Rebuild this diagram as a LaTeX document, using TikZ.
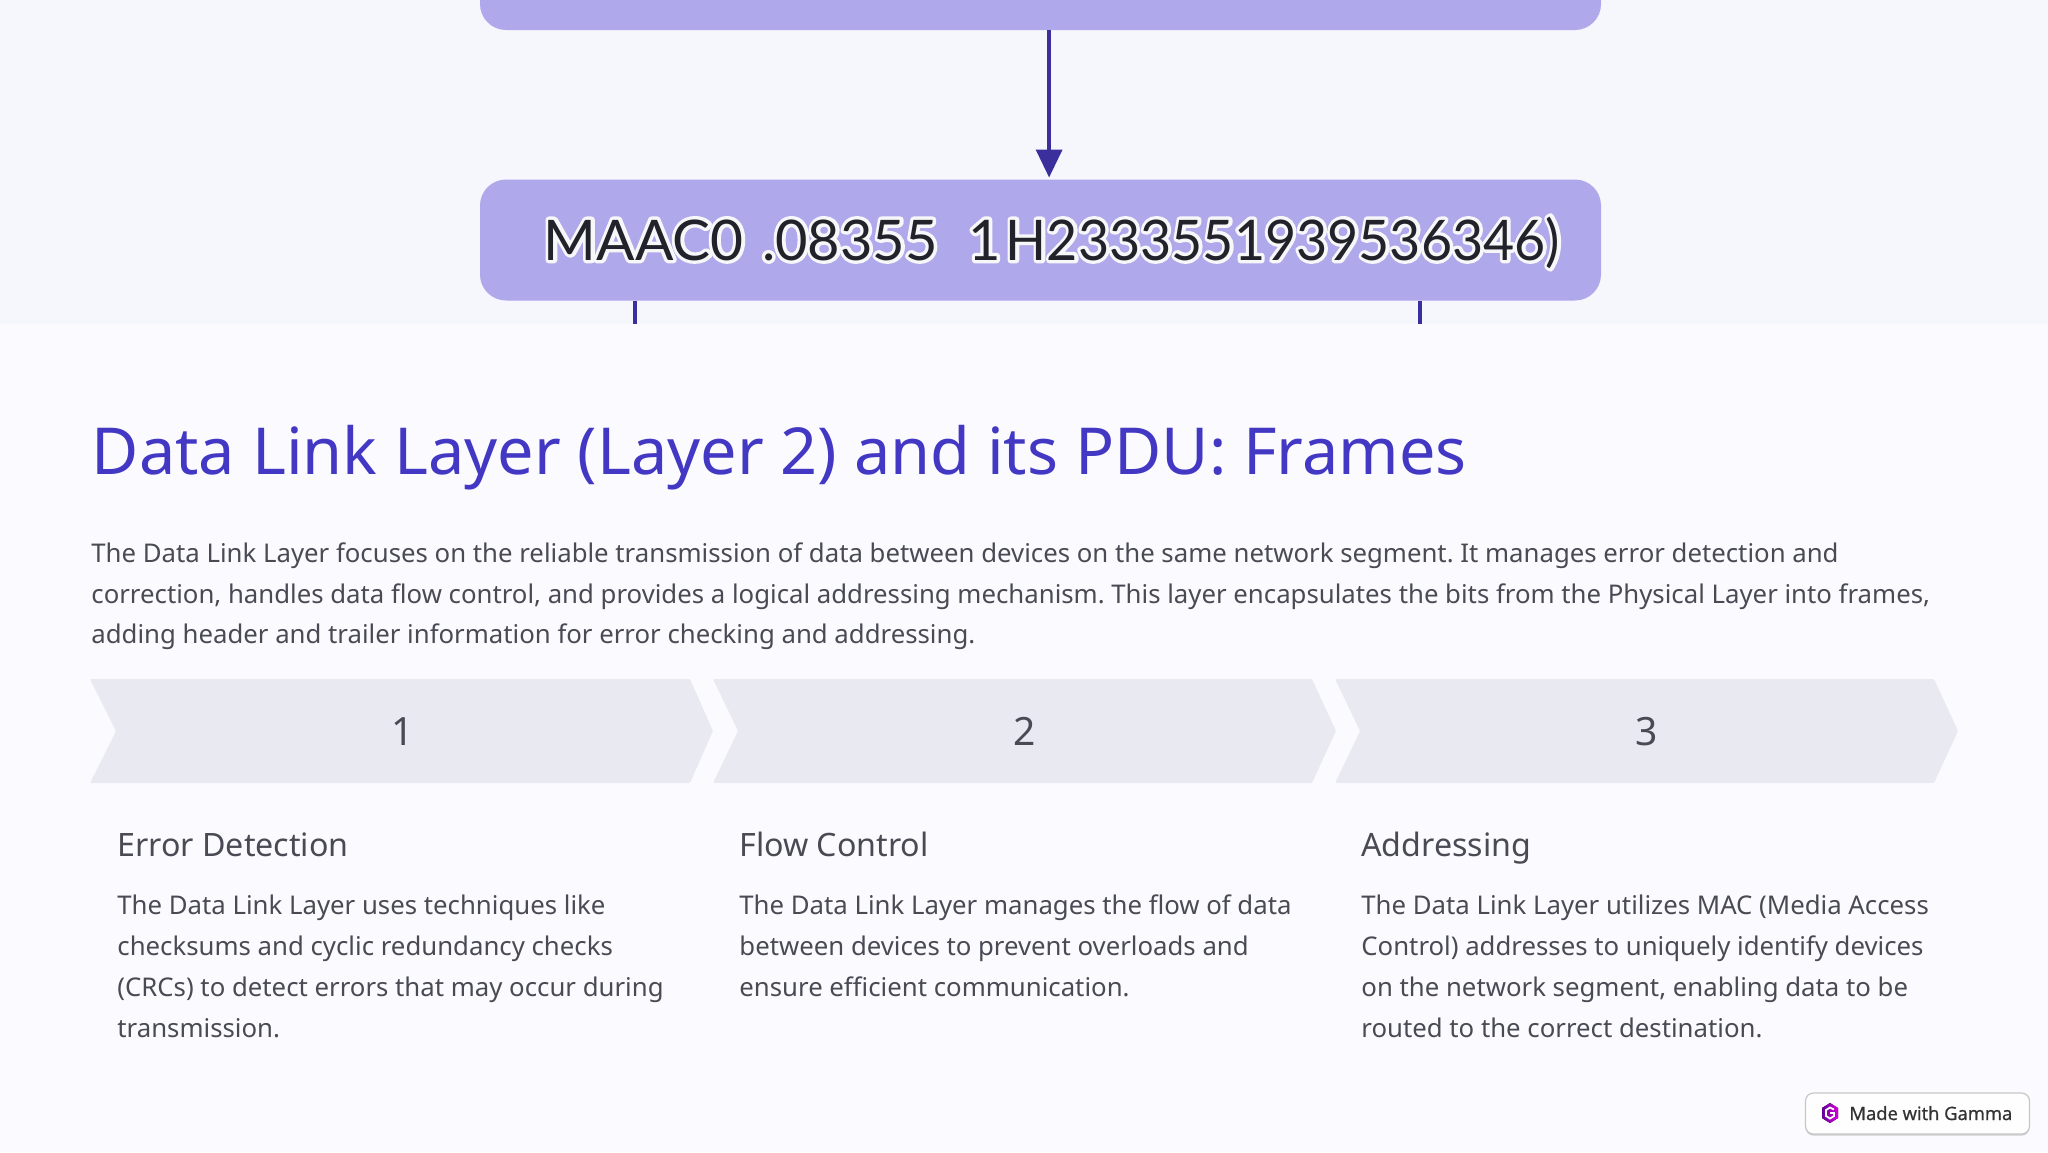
\documentclass[tikz,border=0pt]{standalone}
\usepackage{fontspec}
\usepackage{graphicx}
\usetikzlibrary{arrows.meta,shadows,calc}
\setmainfont{Noto Sans}
\frenchspacing
\newfontfamily\lbl{Lato}
\newfontfamily\badgefont[FakeBold=1]{Open Sans}
\definecolor{pagebg}{HTML}{FBFBFF}
\definecolor{bandbg}{HTML}{F6F6FD}
\definecolor{boxfill}{HTML}{AFA9EC}
\definecolor{arrowc}{HTML}{3A2F9C}
\definecolor{titlec}{HTML}{4338C4}
\definecolor{bodyc}{HTML}{4A4A55}
\definecolor{chev}{HTML}{E9E9F2}
\definecolor{lblc}{HTML}{22222A}
\newcommand{\macline}{\scalebox{1.015}[1]{MAAC0}\hspace{2.2pt} .08355\hspace{0.9pt}\ \ 1\hspace{2.6pt}\scalebox{0.96}[1]{H2333551939536346)}}
\newcommand{\halotext}[1]{\special{pdf:code q 2 Tr 3.4 w 1 j 1 J 0.97 0.97 0.98 RG}\textcolor[HTML]{F7F7FA}{#1}\special{pdf:code Q}}
\tikzset{
  x=0.5pt,y=-0.5pt,
  flowbox/.style={fill=boxfill,rounded corners=13pt,inner sep=0pt,minimum width=560.5pt},
  flowline/.style={draw=arrowc,line width=1.8pt},
  flowarrow/.style={flowline,-{Triangle[width=13pt,length=14pt]},shorten >=0.8pt},
  title/.style={anchor=base west,inner sep=0pt,text=titlec,font=\fontsize{32.4}{40}\selectfont},
  para/.style={anchor=north west,inner sep=0pt,align=left,text=bodyc,font=\fontsize{12.88}{20.45}\selectfont},
  head/.style={anchor=base west,inner sep=0pt,text=bodyc,font=\fontsize{16.1}{20}\selectfont},
  chevron/.style={fill=chev,rounded corners=0.6pt},
  num/.style={text=bodyc,inner sep=0pt,font=\fontsize{19.5}{24}\selectfont},
  badge/.style={fill=white!70!pagebg,draw=black!22,line width=0.6pt,rounded corners=4pt,minimum width=112pt,minimum height=20.5pt,inner sep=0pt,
    drop shadow={shadow xshift=0pt,shadow yshift=-0.8pt,opacity=0.18,fill=black}},
  badgetext/.style={anchor=base west,inner sep=0pt,text=black!80,font=\badgefont\fontsize{9.2}{11}\selectfont}
}
\begin{document}
\begin{tikzpicture}
\useasboundingbox (0,0) rectangle (2048,1152);
\clip (0,0) rectangle (2048,1152);
\fill[pagebg] (0,0) rectangle (2048,1152);
\fill[bandbg] (0,0) rectangle (2048,324);
% flow diagram fragment
\node[flowbox,minimum height=100pt] (upper) at (1040.5,-70) {};
\node[flowbox,minimum height=60.5pt] (mac) at (1040.5,240) {%
  \hspace{11.5pt}\raisebox{-10pt}[0pt][0pt]{\fontsize{28}{34}\selectfont\lbl
  \rlap{\halotext{\macline}}%
  \special{pdf:code 0 Tr 0.3 w}\textcolor{lblc}{\macline}}};
\draw[flowarrow] ([xshift=4.3pt]upper.south) -- ([xshift=4.3pt]mac.north);
\coordinate (leftend) at (635,330);
\coordinate (rightend) at (1420,330);
\draw[flowline] (mac.south -| leftend) -- (leftend);
\draw[flowline] (mac.south -| rightend) -- (rightend);
\fill[pagebg] (0,324) rectangle (2048,1152);
% title and text
\node[title] (ttl) at (91.5,474.5) {Data Link Layer (Layer 2) and its PDU: Frames};
\node[para] (intro) at (91,542) {The Data Link Layer focuses on the reliable transmission of data between devices on the same network segment. It manages error detection and\\
correction, handles data flow control, and provides a logical addressing mechanism. This layer encapsulates the bits from the Physical Layer into frames,\\
adding header and trailer information for error checking and addressing.};
% chevrons
\fill[chevron] (90,679) -- (690,679) -- (713,731) -- (690,783) -- (90,783) -- (116,731) -- cycle;
\fill[chevron] (713,679) -- (1312,679) -- (1336,731) -- (1312,783) -- (713,783) -- (738,731) -- cycle;
\fill[chevron] (1335,679) -- (1934,679) -- (1958,731) -- (1934,783) -- (1335,783) -- (1360,731) -- cycle;
\node[num] (n1) at (402.5,731.5) {1};
\node[num] (n2) at (1024.5,731.5) {2};
\node[num] (n3) at (1646.5,731.5) {3};
% columns
\node[head] (h1) at (117,856.3) {Error Detection};
\node[head] (h2) at (739,856.3) {Flow Control};
\node[head] (h3) at (1361,856.3) {Addressing};
\node[para] (p1) at (117,894.5) {The Data Link Layer uses techniques like\\
checksums and cyclic redundancy checks\\
(CRCs) to detect errors that may occur during\\
transmission.};
\node[para] (p2) at (739,894.5) {The Data Link Layer manages the flow of data\\
between devices to prevent overloads and\\
ensure efficient communication.};
\node[para] (p3) at (1361,894.5) {The Data Link Layer utilizes MAC (Media Access\\
Control) addresses to uniquely identify devices\\
on the network segment, enabling data to be\\
routed to the correct destination.};
% badge
\node[badge] (bdg) at (1917.5,1113.5) {};
\fill[left color=violet!80!blue,right color=magenta!70!violet] (1830,1103) -- (1838,1108) -- (1838,1118) -- (1830,1123) -- (1822,1118) -- (1822,1108) -- cycle;
\draw[white,line width=0.9pt] (1834,1109.5) -- (1830,1107.5) -- (1826,1110) -- (1826,1116) -- (1830,1118.5) -- (1834,1116) -- (1834,1113) -- (1830,1113);
\node[badgetext] (btxt) at (1849,1120) {Made with Gamma};
\end{tikzpicture}
\end{document}
